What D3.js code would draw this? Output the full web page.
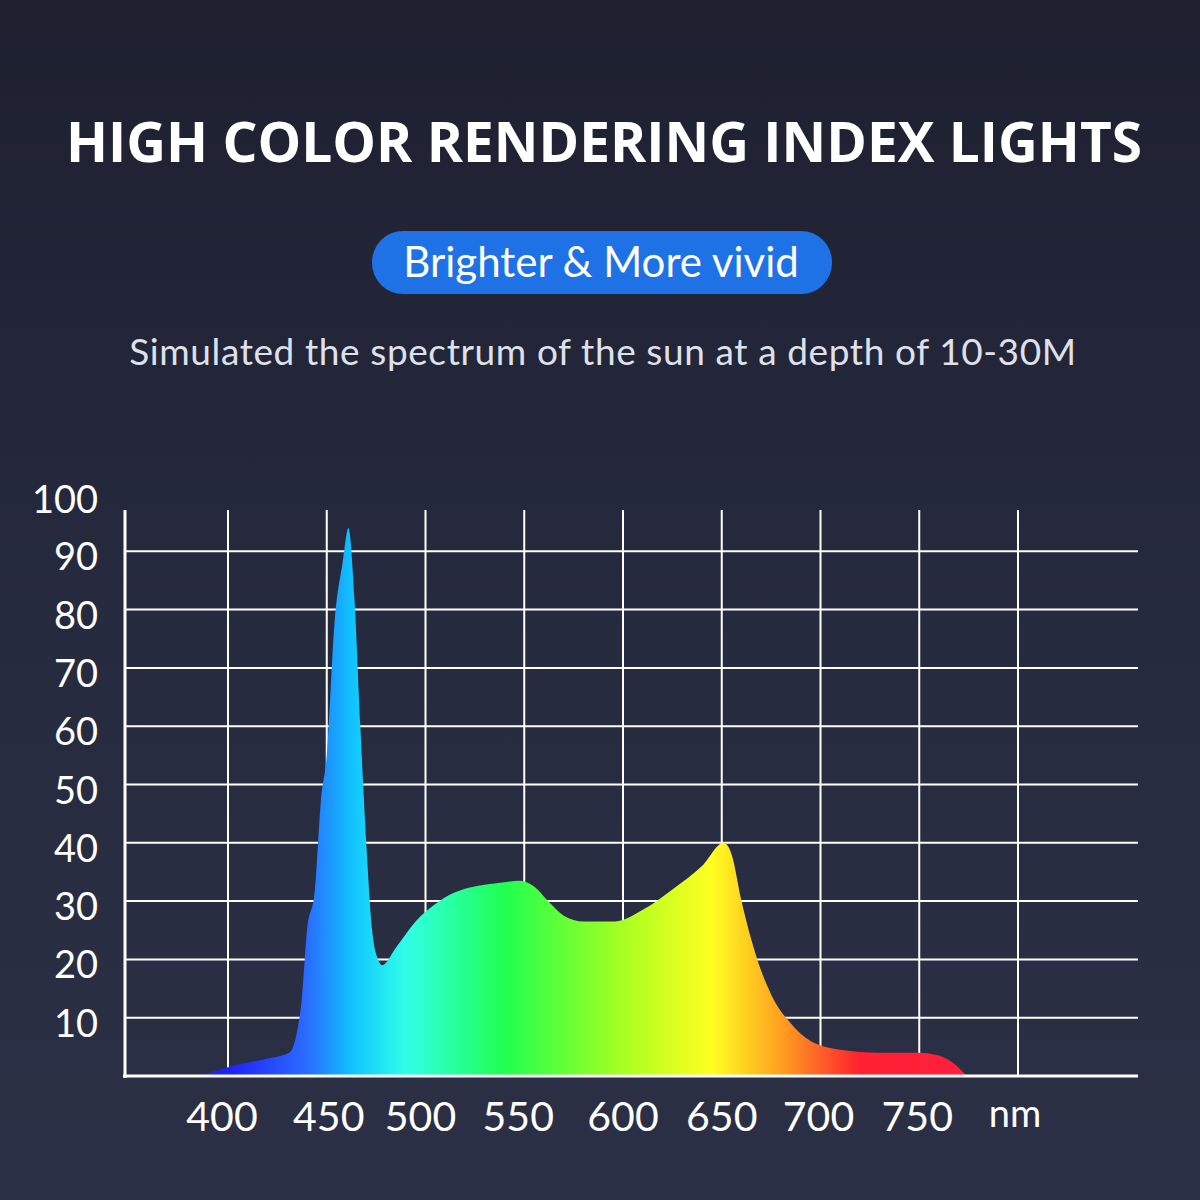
<!DOCTYPE html><html><head><meta charset="utf-8">
<script src="https://cdn.jsdelivr.net/npm/d3@7"></script>
<style>body{margin:0;background:#222536}</style></head><body>
<svg id="c" width="1200" height="1200"></svg>
<script>
const title="HIGH COLOR RENDERING INDEX LIGHTS";
const pillText="Brighter & More vivid";
const subtitle="Simulated the spectrum of the sun at a depth of 10-30M";
const xTicks=[400,450,500,550,600,650,700,750];
const xUnit="nm";
const yTicks=[10,20,30,40,50,60,70,80,90,100];
const wavelengths=[386,400,420,431,437,440,444,447,450,454,458,461,464,467,470,473,476,478,485,495,505,515,525,535,548,555,562,570,580,596,610,625,640,651,655,660,668,675,685,695,710,730,750,760,768,774];
const intensity=[0,1.5,3,4,12,25,32,47,55,78,88,94,82,60,40,25,20,19,22,26.5,29.5,31.5,32.5,33,33.5,32.5,30,27.5,26.5,26.5,28.5,32,36,40,38,30,20,14,9,6,4.5,4,4,3.5,2,0];
const colorStops=[[400,"#2020ff"],[440,"#2a6cff"],[462,"#10c0ff"],[490,"#30ffe8"],[540,"#20ff50"],[600,"#a8ff20"],[645,"#ffff20"],[680,"#ffa020"],[720,"#ff2030"],[774,"#ff2040"]];

const svg=d3.select("#c");
const defs=svg.append("defs");
const bg=defs.append("linearGradient").attr("id","bg").attr("x1",0).attr("y1",0).attr("x2",0).attr("y2",1);
bg.append("stop").attr("offset",0).attr("stop-color","#1e2030");
bg.append("stop").attr("offset",0.5).attr("stop-color","#262a3e");
bg.append("stop").attr("offset",1).attr("stop-color","#2c3046");
svg.append("rect").attr("width",1200).attr("height",1200).attr("fill","url(#bg)");

svg.append("text").attr("x",604).attr("y",162).attr("text-anchor","middle").attr("fill","#fff")
 .attr("font-family","Open Sans, Lato, sans-serif").attr("font-weight","bold").attr("font-size",55).text(title);
svg.append("rect").attr("x",372).attr("y",231).attr("width",460).attr("height",63).attr("rx",31).attr("fill","#1f72e6");
svg.append("text").attr("x",601).attr("y",277).attr("text-anchor","middle").attr("fill","#fff")
 .attr("font-family","Lato, Open Sans, sans-serif").attr("font-size",42).text(pillText);
svg.append("text").attr("x",603).attr("y",365).attr("text-anchor","middle").attr("fill","#dfe1ea")
 .attr("font-family","Lato, Open Sans, sans-serif").attr("font-size",37).attr("letter-spacing",0.6).text(subtitle);

const x=d3.scaleLinear().domain([400,800]).range([228,1018]);
const y=d3.scaleLinear().domain([0,100]).range([1076,493]);

const g=svg.append("g");
xTicks.concat([800]).forEach(t=>g.append("line").attr("x1",x(t)).attr("x2",x(t)).attr("y1",510).attr("y2",1076).attr("stroke","#fff").attr("stroke-width",2));
yTicks.filter(t=>t<100).forEach(t=>g.append("line").attr("x1",125).attr("x2",1138).attr("y1",y(t)).attr("y2",y(t)).attr("stroke","#fff").attr("stroke-width",2));

const grad=defs.append("linearGradient").attr("id","spec").attr("gradientUnits","userSpaceOnUse")
 .attr("x1",x(386)).attr("x2",x(774)).attr("y1",0).attr("y2",0);
colorStops.forEach(([w,c])=>grad.append("stop").attr("offset",(w-386)/(774-386)).attr("stop-color",c));
const area=d3.area().x(d=>x(d[0])).y0(y(0)).y1(d=>y(d[1])).curve(d3.curveMonotoneX);
svg.append("path").datum(wavelengths.map((w,i)=>[w,intensity[i]])).attr("d",area).attr("fill","url(#spec)");

svg.append("line").attr("x1",125).attr("x2",125).attr("y1",510).attr("y2",1078).attr("stroke","#fff").attr("stroke-width",3);
svg.append("line").attr("x1",123).attr("x2",1138).attr("y1",1076).attr("y2",1076).attr("stroke","#fff").attr("stroke-width",3);

const lf="Lato, Open Sans, sans-serif";
yTicks.forEach(t=>svg.append("text").attr("x",98).attr("y",y(t)+(t==100?20:19)).attr("text-anchor","end").attr("fill","#fff").attr("font-family",lf).attr("font-size",38).text(t));
xTicks.forEach((t,i)=>svg.append("text").attr("x",x(t)+[-6,2,-5,-6,0,0,-2,-2][i]).attr("y",1131).attr("text-anchor","middle").attr("fill","#fff").attr("font-family",lf).attr("font-size",41).text(t));
svg.append("text").attr("x",x(800)-3).attr("y",1127).attr("text-anchor","middle").attr("fill","#fff").attr("font-family",lf).attr("font-size",38).text(xUnit);
</script></body></html>
